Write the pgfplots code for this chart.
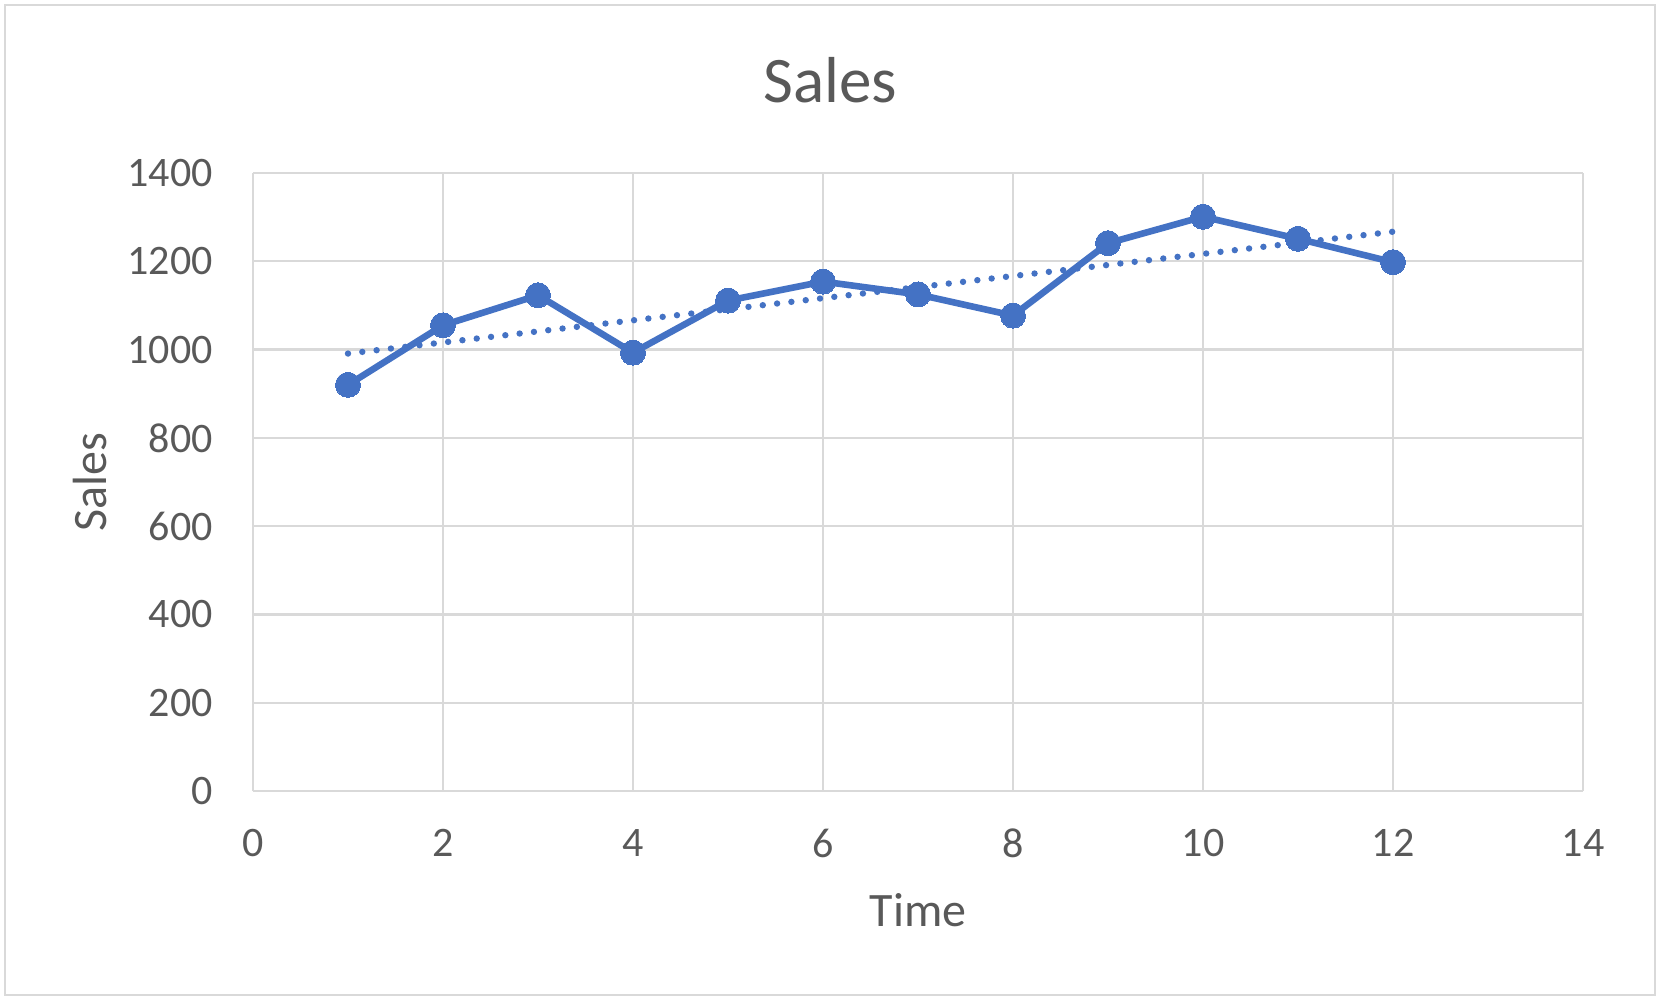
\documentclass[border=0pt]{standalone}
\usepackage{fontspec}
\setmainfont{Carlito}
\usepackage{pgfplots}
\pgfplotsset{compat=1.18}

\definecolor{txt}{HTML}{595959}
\definecolor{gridc}{HTML}{D9D9D9}
\definecolor{blue1}{HTML}{4472C4}

\begin{document}
\begin{tikzpicture}
% page frame (1 px = 0.5pt)
\path (-126.5pt,-106pt) rectangle (705pt,395.5pt);
\draw[gridc, line width=1.2pt] (-124pt,-102pt) rectangle (701pt,393pt);

\begin{axis}[
  scale only axis,
  width=665pt, height=309pt,
  xmin=0, xmax=14, ymin=0, ymax=1400,
  xtick={0,2,...,14}, ytick={0,200,...,1400},
  scaled y ticks=false,
  /pgf/number format/assume math mode=true,
  /pgf/number format/1000 sep={},
  grid=major,
  major grid style={gridc, line width=1.2pt},
  axis line style={draw=none},
  major tick length=0pt,
  tick label style={font=\fontsize{21}{24}\selectfont, text=txt},
  xticklabel style={anchor=center, inner sep=0pt, yshift=-26pt},
  yticklabel style={anchor=east, inner sep=0pt, xshift=-20pt},
  label style={font=\fontsize{24}{28}\selectfont, text=txt},
  xlabel={Time},
  ylabel={Sales},
  xlabel style={at={(axis description cs:0.5,-0.1926)}, anchor=center},
  ylabel style={at={(axis description cs:-0.1226,0.5)}, anchor=center},
  clip=false,
]
% sales
\addplot[blue1, line width=3.3pt, line join=round,
  mark=*, mark size=6.25pt, mark options={fill=blue1, draw=blue1, line width=0pt}]
  coordinates {
  (1,920) (2,1055) (3,1123) (4,993) (5,1111) (6,1154)
  (7,1125) (8,1077) (9,1241) (10,1301) (11,1251) (12,1198)
};
% linear trendline
\addplot[blue1, line width=3.2pt, line cap=round, dash pattern=on 0pt off 7.2pt]
  coordinates {(1,991) (12,1267)};
\end{axis}

\node[text=txt, font=\fontsize{32.5}{38}\selectfont, anchor=center] at (288.5pt,355.5pt) {Sales};
\end{tikzpicture}
\end{document}
